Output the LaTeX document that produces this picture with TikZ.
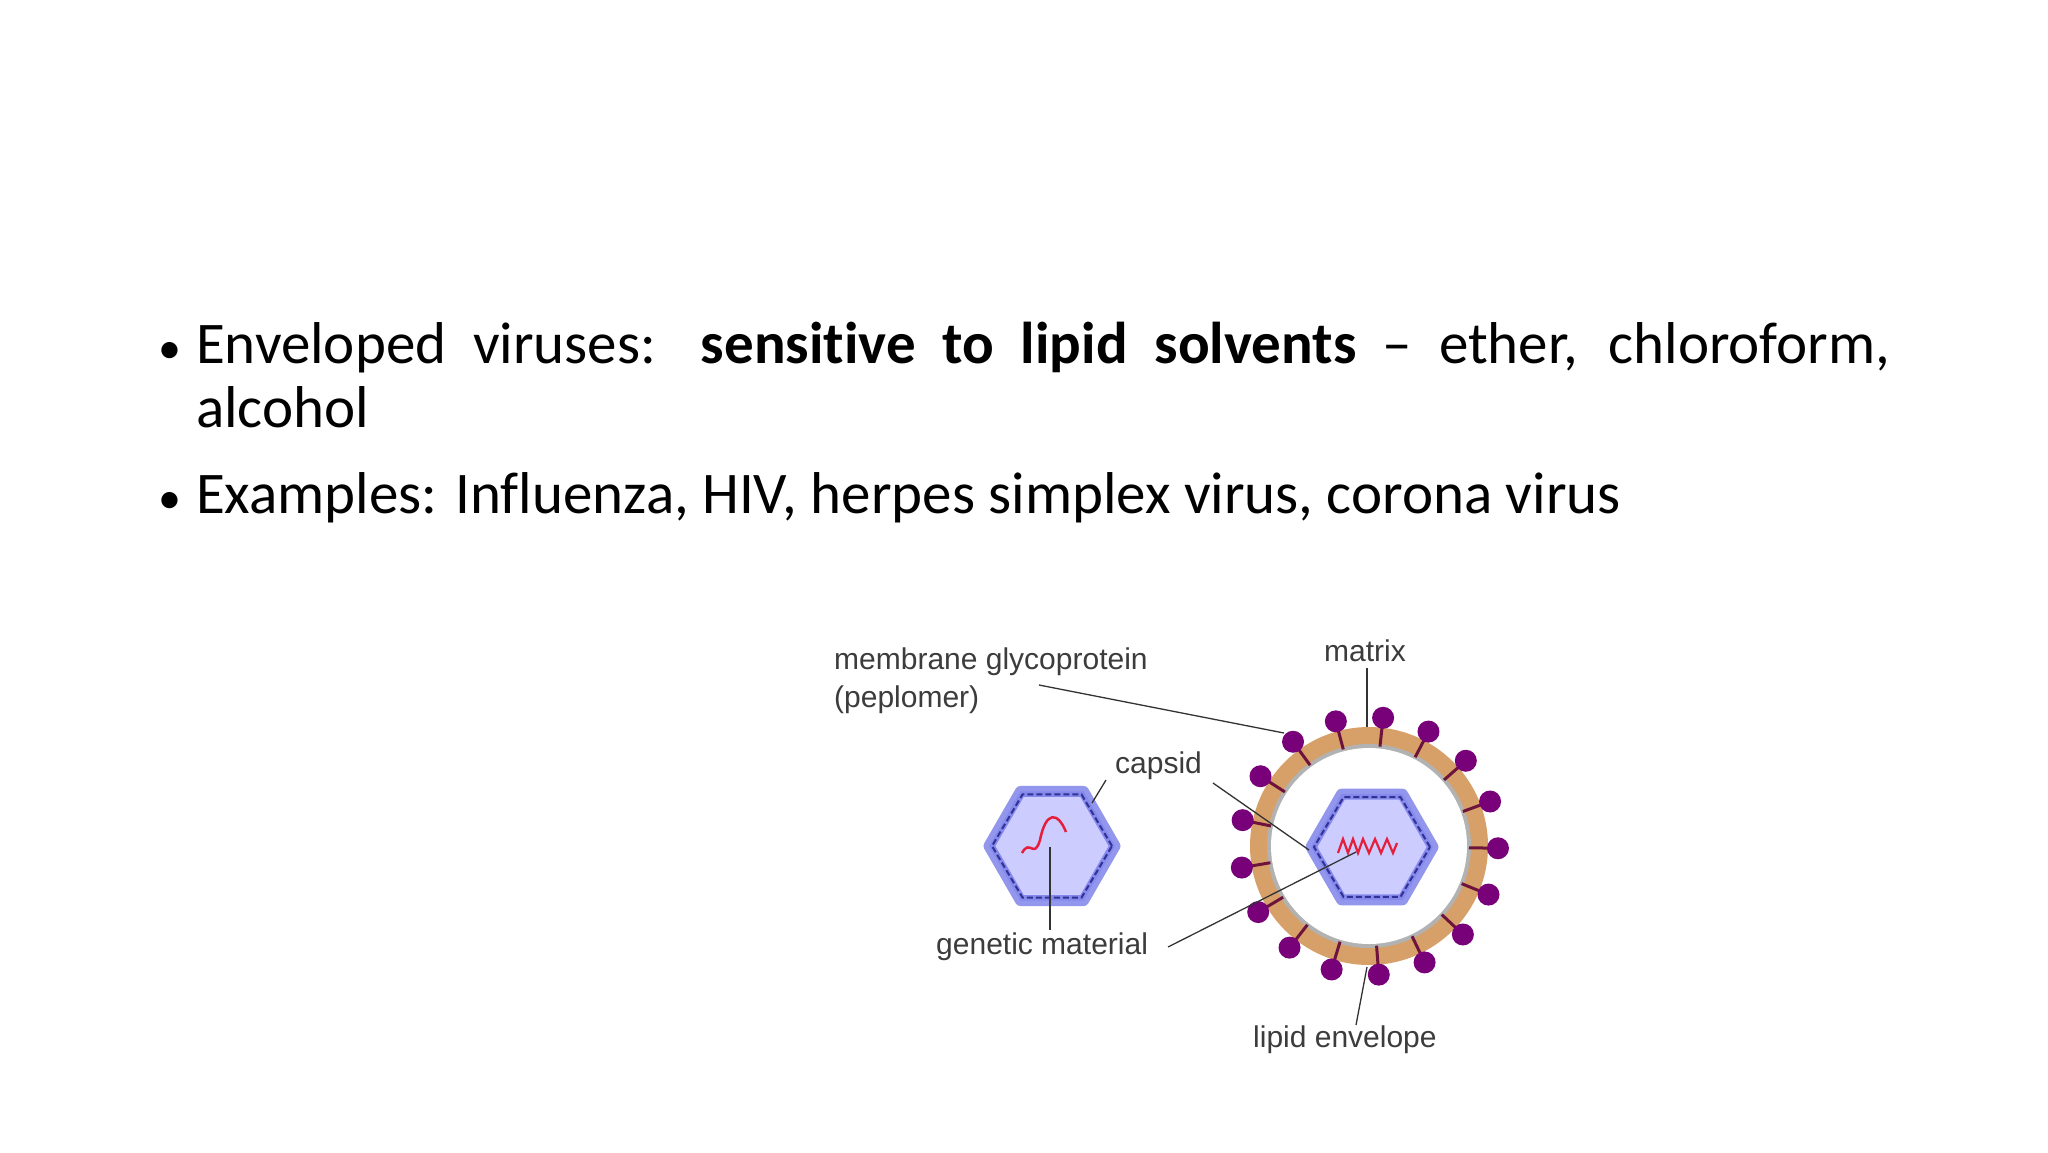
\documentclass[tikz,border=0pt]{standalone}
\usepackage{fontspec}
\setmainfont[Ligatures={NoCommon,NoContextual}]{Carlito}
\newfontfamily\lblfont{Liberation Sans}
\definecolor{tanc}{RGB}{214,160,104}
\definecolor{ballc}{RGB}{120,0,120}
\definecolor{stemc}{RGB}{110,20,60}
\definecolor{hexfill}{RGB}{204,204,255}
\definecolor{hexbord}{RGB}{110,115,230}
\definecolor{hexdark}{RGB}{50,50,150}
\definecolor{lblc}{RGB}{60,60,60}
\definecolor{dnac}{RGB}{230,30,60}
\tikzset{
  lbl/.style={font=\lblfont\fontsize{30}{38}\selectfont, text=lblc, inner sep=0pt},
  leader/.style={draw=black!80, line width=1.3pt},
  bul/.style={font=\fontsize{59}{64}\selectfont, inner sep=0pt, anchor=base west},
  dot/.style={font=\fontsize{46}{64}\selectfont, inner sep=0pt, anchor=base west},
}
\newcommand{\hexa}[3]{% center x, y, radius
  \fill[hexfill] (#1+#3,#2) -- (#1+#3/2,#2-0.866*#3) -- (#1-#3/2,#2-0.866*#3) -- (#1-#3,#2) -- (#1-#3/2,#2+0.866*#3) -- (#1+#3/2,#2+0.866*#3) -- cycle;
  \draw[hexbord, opacity=0.75, line width=11pt, line join=round] (#1+#3,#2) -- (#1+#3/2,#2-0.866*#3) -- (#1-#3/2,#2-0.866*#3) -- (#1-#3,#2) -- (#1-#3/2,#2+0.866*#3) -- (#1+#3/2,#2+0.866*#3) -- cycle;
  \draw[hexdark, line width=2pt, dash pattern=on 6pt off 3pt] (#1+#3-3,#2) -- (#1+#3/2-2,#2-0.866*#3+3) -- (#1-#3/2+2,#2-0.866*#3+3) -- (#1-#3+3,#2) -- (#1-#3/2+2,#2+0.866*#3-3) -- (#1+#3/2-2,#2+0.866*#3-3) -- cycle;
}
\begin{document}
\begin{tikzpicture}[x=1pt,y=-1pt]
\useasboundingbox (0,0) rectangle (2048,1152);
\fill[white] (0,0) rectangle (2048,1152);
% text
\node[dot] (b1) at (158,363) {•};
\node[bul, text width=1694pt, align=justify] (t1) at (196,363) {\hyphenpenalty=10000 Enveloped viruses: \textbf{sensitive to lipid solvents} – ether, chloroform,\linebreak alcohol};
\node[dot] (b2) at (158,513) {•};
\node[bul] (t2) at (196,513) {Examples: Influenza, HIV, herpes simplex virus, corona virus};
% envelope
\fill[tanc] (1369,846) circle (119);
\fill[gray!60] (1369,846) circle (102);
\fill[white] (1369,846) circle (98);
\foreach \k in {0,...,16}{
  \pgfmathsetmacro{\a}{-1+21.18*\k}
  \draw[stemc, line width=3pt] (1369,846) ++(-\a:100) -- ++(-\a:26);
  \fill[ballc] (1369,846) ++(-\a:129) circle (11);
}
% hexagons
\hexa{1052}{846}{63}
\hexa{1372}{847}{61}
% genetic material
\draw[dnac, line width=2.5pt] (1022,853) .. controls (1030,838) and (1034,860) .. (1040,840) .. controls (1046,810) and (1058,812) .. (1066,832);
\draw[dnac, line width=2.2pt] (1338,853) -- (1343,839) -- (1348,853) -- (1353,839) -- (1358,853) -- (1363,839) -- (1369,853) -- (1375,839) -- (1381,853) -- (1387,839) -- (1393,853) -- (1397,843);
% labels
\node[lbl, anchor=north west, align=left] (mg) at (834,648) {membrane glycoprotein\\(peplomer)};
\node[lbl, anchor=north west] (mx) at (1324,640) {matrix};
\node[lbl, anchor=north west] (cp) at (1115,752) {capsid};
\node[lbl, anchor=north west] (gm) at (936,933) {genetic material};
\node[lbl, anchor=north west] (le) at (1253,1026) {lipid envelope};
% leader end points
\coordinate (mgA) at (1039,685); \coordinate (mgB) at (1284,733);
\coordinate (mxA) at (1367,668); \coordinate (mxB) at (1367,727);
\coordinate (cpA) at (1106,780); \coordinate (cpB) at (1092,803);
\coordinate (cpC) at (1213,783); \coordinate (cpD) at (1309,850);
\coordinate (gmA) at (1050,930); \coordinate (gmB) at (1050,847);
\coordinate (gmC) at (1168,947); \coordinate (gmD) at (1356,852);
\coordinate (leA) at (1356,1025); \coordinate (leB) at (1367,967);
\draw[leader] (mgA) -- (mgB);
\draw[leader] (mxA) -- (mxB);
\draw[leader] (cpA) -- (cpB);
\draw[leader] (cpC) -- (cpD);
\draw[leader] (gmA) -- (gmB);
\draw[leader] (gmC) -- (gmD);
\draw[leader] (leA) -- (leB);
\end{tikzpicture}
\end{document}
